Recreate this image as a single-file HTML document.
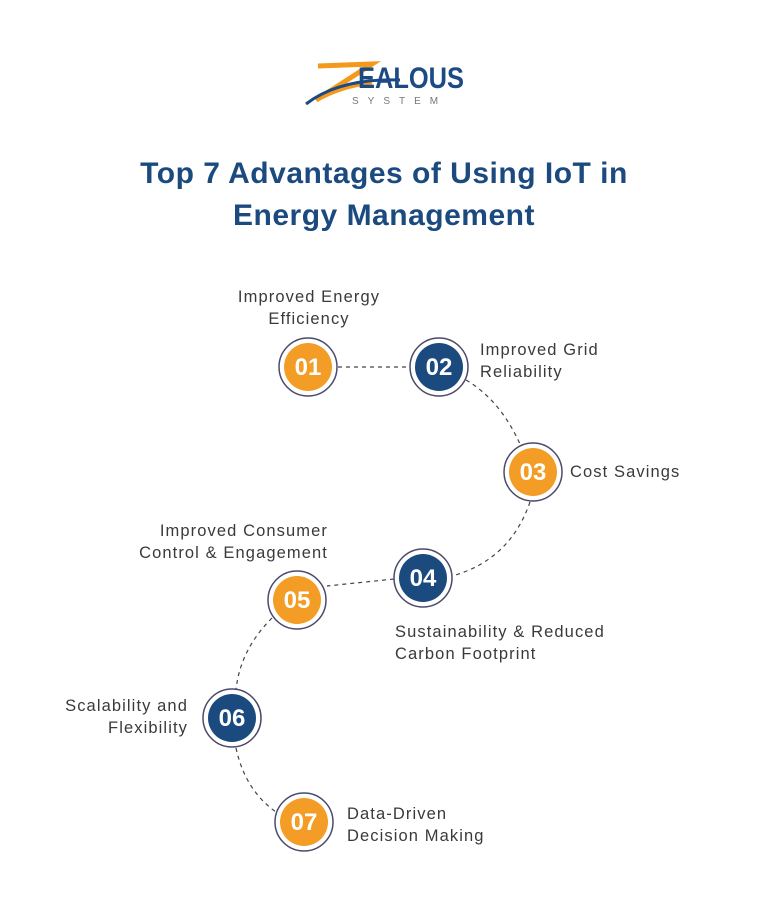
<!DOCTYPE html>
<html><head><meta charset="utf-8"><style>
body{margin:0;background:#fff;}
svg{display:block;font-family:"Liberation Sans",sans-serif;}
.lbl{font-size:16.5px;fill:#3a3a3a;letter-spacing:1.1px;}
.num{font-size:24px;font-weight:bold;fill:#fff;}
</style></head><body>
<svg width="768" height="919" viewBox="0 0 768 919">
<g>
  <path d="M318 66 L372 64 L316 100 Q340 86 372 82" stroke="#f39a1c" stroke-width="5" fill="none"/>
  <path d="M306 104 Q340 78 400 80" stroke="#1b4a85" stroke-width="3" fill="none"/>
  <text x="358" y="88" font-size="30" font-weight="bold" fill="#1b4a85" textLength="106" lengthAdjust="spacingAndGlyphs">EALOUS</text>
  <text x="352" y="104" font-size="10" fill="#777" letter-spacing="9">SYSTEM</text>
</g>
<text x="384" y="183" text-anchor="middle" font-size="30" font-weight="bold" fill="#1b4a7f" letter-spacing="0.5">Top 7 Advantages of Using IoT in</text>
<text x="384" y="225" text-anchor="middle" font-size="30" font-weight="bold" fill="#1b4a7f" letter-spacing="0.5">Energy Management</text>
<g stroke="#444" stroke-width="1.2" stroke-dasharray="4,4" fill="none">
  <path d="M338 367 L410 367"/>
  <path d="M466 380 Q500 400 520 444"/>
  <path d="M530 502 Q510 560 452 576"/>
  <path d="M394 579 L327 586"/>
  <path d="M272 618 Q240 650 236 690"/>
  <path d="M236 748 Q245 790 276 812"/>
</g>
<g>
  <g><circle cx="308" cy="367" r="29" fill="#fff" stroke="#4a4a6a" stroke-width="1.5"/><circle cx="308" cy="367" r="24" fill="#f39c26"/><text class="num" x="308" y="375" text-anchor="middle">01</text></g>
  <g><circle cx="439" cy="367" r="29" fill="#fff" stroke="#4a4a6a" stroke-width="1.5"/><circle cx="439" cy="367" r="24" fill="#1b4a7f"/><text class="num" x="439" y="375" text-anchor="middle">02</text></g>
  <g><circle cx="533" cy="472" r="29" fill="#fff" stroke="#4a4a6a" stroke-width="1.5"/><circle cx="533" cy="472" r="24" fill="#f39c26"/><text class="num" x="533" y="480" text-anchor="middle">03</text></g>
  <g><circle cx="423" cy="578" r="29" fill="#fff" stroke="#4a4a6a" stroke-width="1.5"/><circle cx="423" cy="578" r="24" fill="#1b4a7f"/><text class="num" x="423" y="586" text-anchor="middle">04</text></g>
  <g><circle cx="297" cy="600" r="29" fill="#fff" stroke="#4a4a6a" stroke-width="1.5"/><circle cx="297" cy="600" r="24" fill="#f39c26"/><text class="num" x="297" y="608" text-anchor="middle">05</text></g>
  <g><circle cx="232" cy="718" r="29" fill="#fff" stroke="#4a4a6a" stroke-width="1.5"/><circle cx="232" cy="718" r="24" fill="#1b4a7f"/><text class="num" x="232" y="726" text-anchor="middle">06</text></g>
  <g><circle cx="304" cy="822" r="29" fill="#fff" stroke="#4a4a6a" stroke-width="1.5"/><circle cx="304" cy="822" r="24" fill="#f39c26"/><text class="num" x="304" y="830" text-anchor="middle">07</text></g>
</g>
<g>
  <text class="lbl" x="309" y="302" text-anchor="middle">Improved Energy</text>
  <text class="lbl" x="309" y="324" text-anchor="middle">Efficiency</text>
  <text class="lbl" x="480" y="355">Improved Grid</text>
  <text class="lbl" x="480" y="377">Reliability</text>
  <text class="lbl" x="570" y="477">Cost Savings</text>
  <text class="lbl" x="328" y="536" text-anchor="end">Improved Consumer</text>
  <text class="lbl" x="328" y="558" text-anchor="end">Control &amp; Engagement</text>
  <text class="lbl" x="395" y="637">Sustainability &amp; Reduced</text>
  <text class="lbl" x="395" y="659">Carbon Footprint</text>
  <text class="lbl" x="188" y="711" text-anchor="end">Scalability and</text>
  <text class="lbl" x="188" y="733" text-anchor="end">Flexibility</text>
  <text class="lbl" x="347" y="819">Data-Driven</text>
  <text class="lbl" x="347" y="841">Decision Making</text>
</g>
</svg>
</body></html>
